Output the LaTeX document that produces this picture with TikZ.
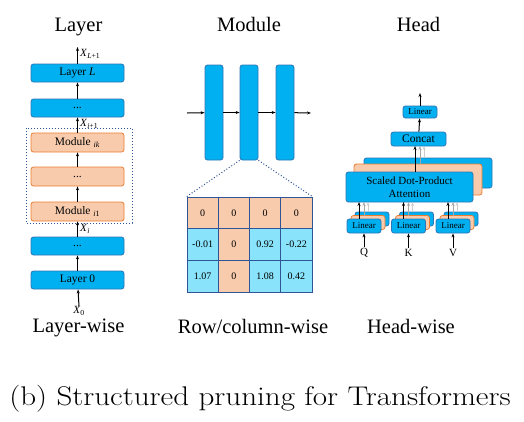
\documentclass[tikz,border=0pt]{standalone}
\usepackage{fontspec}
\setmainfont{Liberation Serif}
\newfontfamily\capfont[FakeStretch=1.15]{Latin Modern Roman}
\usetikzlibrary{arrows.meta}
\definecolor{bfill}{HTML}{00B0F0}
\definecolor{bdraw}{HTML}{2E75B6}
\definecolor{ofill}{HTML}{F8CBAD}
\definecolor{odraw}{HTML}{ED7D31}
\definecolor{cfill}{HTML}{89E3FA}
\definecolor{tdraw}{HTML}{2F5597}
\tikzset{
  bbox/.style={draw=bdraw, fill=bfill, rounded corners=2.5pt, line width=0.8pt, inner sep=0pt, font=\fontsize{11.5}{12}\selectfont},
  obox/.style={draw=odraw, fill=ofill, rounded corners=2.5pt, line width=0.8pt, inner sep=0pt, font=\fontsize{11.5}{12}\selectfont},
  arr/.style={-{Stealth[length=4pt,width=3pt]}, line width=1pt, black},
  garr/.style={-{Stealth[length=4pt,width=3pt]}, line width=1pt, gray!70},
  larr/.style={-{Stealth[length=4pt,width=3pt]}, line width=1pt, gray!40},
  title/.style={font=\fontsize{20.5}{21}\selectfont, anchor=base, inner sep=0pt},
  cell/.style={draw=tdraw, line width=0.8pt, minimum width=31.25pt, minimum height=31.7pt, inner sep=0pt, font=\fontsize{10}{10}\selectfont},
  lab/.style={font=\fontsize{11}{11}\selectfont, inner sep=1pt},
}
\begin{document}
\begin{tikzpicture}[x=1pt,y=-1pt]
\useasboundingbox (0,0) rectangle (524,421);
% ---------- Layer column ----------
\node[title] (tl) at (78.5,31) {Layer};
\draw[tdraw, dotted, line width=1pt] (26,128) rectangle (132,223);
\node[bbox, minimum width=93pt, minimum height=18pt] (LL) at (77.5,73) {Layer \textit{L}};
\node[bbox, minimum width=93pt, minimum height=18pt] (Ld2) at (77.5,108) {...};
\node[obox, minimum width=93pt, minimum height=19pt] (Mk) at (77.5,142.5) {Module \textsubscript{\textit{ik}}};
\node[obox, minimum width=93pt, minimum height=19pt] (Md) at (77.5,176.5) {...};
\node[obox, minimum width=93pt, minimum height=19pt] (M1) at (77.5,211.5) {Module \textsubscript{\textit{i}1}};
\node[bbox, minimum width=93pt, minimum height=18pt] (Ld1) at (77.5,246) {...};
\node[bbox, minimum width=93pt, minimum height=18pt] (L0) at (77.5,280) {Layer 0};
\coordinate (top) at (77.5,47);
\node[lab, inner sep=0pt] (x0) at (79,311) {\textit{X}\textsubscript{0}};
\draw[arr] (x0.north) -- (L0);
\draw[arr] (L0) -- (Ld1);
\draw[arr] (Ld1) -- (M1);
\draw[arr] (M1) -- (Md);
\draw[arr] (Md) -- (Mk);
\draw[arr] (Mk) -- (Ld2);
\draw[arr] (Ld2) -- (LL);
\draw[arr] (LL) -- (top);
\node[lab, anchor=west] (xl1) at (79,54) {\textit{X}\textsubscript{\textit{L}+1}};
\node[lab, anchor=west] (xi1) at (79,124) {\textit{X}\textsubscript{\textit{i}+1}};
\node[lab, anchor=west] (xi) at (79,229) {\textit{X}\textsubscript{\textit{i}}};
\node[title] (lw) at (78.5,332) {Layer-wise};
% ---------- Module column ----------
\node[title] (tm) at (249,31) {Module};
\node[bbox, minimum width=18pt, minimum height=95pt] (b1) at (214,112.5) {};
\node[bbox, minimum width=18pt, minimum height=95pt] (b2) at (249,112.5) {};
\node[bbox, minimum width=18pt, minimum height=95pt] (b3) at (285,112.5) {};
\coordinate (ain) at (187,113);
\coordinate (aout) at (311,113);
\draw[arr] (ain) -- (b1);
\draw[arr] (b1) -- (b2);
\draw[arr] (b2) -- (b3);
\draw[arr] (b3) -- (aout);
% table
\foreach \c/\r/\v/\f [count=\i] in {0/0/0/ofill,1/0/0/ofill,2/0/0/ofill,3/0/0/ofill,
  0/1/-0.01/cfill,1/1/0/ofill,2/1/0.92/cfill,3/1/-0.22/cfill,
  0/2/1.07/cfill,1/2/0/ofill,2/2/1.08/cfill,3/2/0.42/cfill}{
  \node[cell, fill=\f] (c\i) at ({187+15.625+31.25*\c},{197+15.85+31.7*\r}) {\v};
}
\draw[tdraw, dotted, line width=1pt] (b2.south west) -- (c1.north west);
\draw[tdraw, dotted, line width=1pt] (b2.south east) -- (c4.north east);
\node[title] (rw) at (253,333) {Row/column-wise};
% ---------- Head column ----------
\node[title] (th) at (418.5,31) {Head};
\node[bbox, minimum width=34pt, minimum height=12pt, font=\fontsize{9}{9}\selectfont] (hl) at (420,112) {Linear};
\node[bbox, minimum width=55pt, minimum height=14pt] (cc) at (418.5,139) {Concat};
\coordinate (htop) at (420,93);
\draw[arr] (hl) -- (htop);
\draw[arr] (cc) -- (hl);
\node[bbox, minimum width=128pt, minimum height=30pt] (s3) at (428,173) {};
\node[obox, minimum width=128pt, minimum height=31pt] (s2) at (418,179.5) {};
\node[bbox, minimum width=127pt, minimum height=30pt, align=center, font=\fontsize{11}{13}\selectfont] (s1) at (409.5,187) {Scaled Dot-Product\\Attention};
\draw[larr] (424,158) -- (424,146);
\draw[garr] (420,164) -- (420,146);
\draw[arr] (415,172) -- (415,146);
% linear groups
\foreach \g/\cx/\q in {1/364/Q,2/408.5/K,3/453/V}{
  \node[bbox, minimum width=34pt, minimum height=14pt] (lb\g) at ({\cx+8},219) {};
  \node[obox, minimum width=34pt, minimum height=14pt] (lo\g) at ({\cx+4},222.5) {};
  \node[bbox, minimum width=34pt, minimum height=14pt, font=\fontsize{9}{9}\selectfont] (lf\g) at (\cx,226) {Linear};
  \node[lab] (in\g) at (\cx,253) {\q};
  \draw[arr] (in\g.north) -- (lf\g);
  \draw[larr] ({\cx+4},212) -- ({\cx+4},202);
  \draw[garr] ({\cx},215.5) -- ({\cx},202);
  \draw[arr] ({\cx-5},219) -- ({\cx-5},202);
}
\node[title] (hw) at (411,333) {Head-wise};
% caption
\node[font=\capfont\fontsize{27}{27}\selectfont] (cap) at (260,399) {(b) Structured pruning for Transformers};
\end{tikzpicture}
\end{document}
